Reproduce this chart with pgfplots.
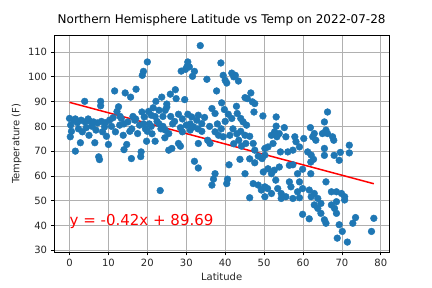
\documentclass[border=0pt]{standalone}
\usepackage{fontspec}
\setmainfont{DejaVu Sans}
\usepackage{pgfplots}
\pgfplotsset{compat=1.18}
\definecolor{mplblue}{HTML}{1F77B4}
\definecolor{gridgray}{HTML}{B0B0B0}
\begin{document}
\fontsize{10}{12}\selectfont
\begin{tikzpicture}
\begin{axis}[
  scale only axis, width=334.7pt, height=216.3pt,
  xmin=-3.91, xmax=82.1, ymin=29.3, ymax=116.6,
  xtick={0,10,...,80}, ytick={30,40,...,110},
  xtick pos=bottom, ytick pos=left,
  grid=major, grid style={gridgray, line width=0.8pt},
  axis line style={line width=0.8pt},
  tick align=outside, major tick length=3.5pt,
  tick style={black, line width=0.8pt},
  /pgf/number format/assume math mode=true,
  tick label style={font=\fontsize{10}{12}\selectfont, inner sep=0pt, text=black!85},
  xticklabel style={yshift=-3.5pt},
  yticklabel style={xshift=-3.5pt},
  title={Northern Hemisphere Latitude vs Temp on 2022-07-28},
  title style={font=\fontsize{12}{14}\selectfont, anchor=base, at={(0.5,1)}, yshift=6pt, inner sep=0pt},
  xlabel={Latitude}, ylabel={Temperature (F)},
  label style={font=\fontsize{10}{12}\selectfont, text=black!85},
  xlabel style={yshift=-3pt},
  ylabel style={yshift=3pt},
]
\addplot[only marks, mark=*, mark size=3.4pt, mplblue, mark options={solid, draw=none, fill=mplblue}] coordinates {
(0,83.2)(0.3,80.5)(0.5,78)(0.2,75.8)(1.1,82.5)(1.5,70.0)(1.5,83)(2.0,81.5)(2.3,79)(2.8,73.4)
(3.0,82.5)(3.3,77.8)(3.9,90.1)(4.0,81.8)(4.3,79.5)(4.8,83)(5.0,76.4)(5.3,82)(5.8,80)(6.2,81.8)
(6.5,73.4)(6.8,78.5)(7.2,81.4)(7.5,67.7)(7.7,66.6)(8.0,90.1)(8.0,88.3)(8.2,82)(8.5,77.8)(9.0,79.8)
(9.2,81.5)(9.5,76)(10.0,72.7)(10.3,82.5)(10.8,80)(11.2,83.5)(11.6,94.3)(11.8,77.8)(12.2,86)(12.6,87.9)
(12.9,80.5)(13.3,83.2)(13.8,76.4)(14.0,70.6)(14.3,93.5)(14.7,72.7)(15.0,81.8)(15.5,78)(15.7,91.8)(15.9,67.0)
(16.3,84)(16.8,82.5)(17.1,95.0)(17.5,77.1)(18.0,80.5)(18.4,69.7)(18.3,67.8)(18.6,85.8)(18.7,100.6)(19.0,102.2)
(19.2,83.8)(19.5,79)(19.8,74)(20.0,106)(20.3,86)(20.5,81)(21.0,84.5)(21.2,77)(21.5,87.5)(22.0,74)
(22.2,90.1)(22.5,82)(23.0,86.5)(23.3,54.1)(23.5,79)(23.7,91.8)(24.0,84)(24.5,75.4)(24.6,86.5)(24.6,78.5)
(25.0,87.8)(25.0,89)(25.5,77.1)(25.5,70.4)(25.9,93)(26.3,71.1)(26.5,81)(27.2,94.8)(27.4,91.2)(28.0,84.9)
(28.0,73.1)(28.5,72)(28.5,79.5)(28.7,102.3)(29.0,77.8)(29.6,90.8)(29.8,103)(30.0,80.5)(30.2,104.2)(30.4,106)
(30.4,84.9)(30.8,104)(31.0,78.5)(31.4,83.8)(31.6,100.2)(31.9,79.8)(32.1,102.2)(32.1,65.9)(32.7,82.5)(33.1,84.5)
(33.1,73.1)(33.1,63.2)(33.6,112.6)(34.0,81.1)(34.7,83.6)(35.3,99)(35.5,74.4)(36.1,73.1)(36.6,87.2)(36.6,56.3)
(37.0,58.7)(37.4,85.2)(37.4,60.9)(37.4,77.8)(37.8,94.3)(38.3,76.4)(38.9,105.6)(39.1,89.5)(39.5,100.6)(39.5,75.8)
(39.8,86.8)(40.0,98.6)(40.4,97.5)(40.4,56.9)(40.6,58.7)(40.8,84.9)(41.0,64.5)(41.2,76.4)(41.7,101.5)(41.7,83.2)
(42.2,100)(42.2,73)(42.6,100.6)(42.9,88.1)(43.1,85.2)(43.4,98.3)(43.8,66.7)(43.5,74.4)(44.0,83.2)(44.2,72)
(44.6,81.8)(45.1,91.6)(45.1,76.4)(45.1,60.9)(45.3,73.1)(45.5,80.5)(45.7,91.2)(46.3,76)(46.3,66.9)(46.3,51.2)
(46.6,93.5)(47.0,89.9)(47.2,73.1)(47.2,56.9)(47.4,85.8)(47.6,89.2)(47.6,70.4)(47.6,65.3)(48.5,56.3)(48.5,68)
(49.3,54.3)(49.5,67)(49.7,84.2)(49.8,61.6)(50.2,71.1)(50.2,68.4)(50.2,55.6)(50.2,51.6)(50.9,54.9)(51.0,71.7)
(51.0,62.9)(51.9,76.4)(51.9,60.9)(51.9,52.9)(52.3,73.1)(52.6,62.3)(52.7,77.8)(53.0,58.3)(53.1,83.8)(53.1,80.1)
(53.3,75.8)(53.5,54.9)(53.9,77.1)(53.9,63.6)(54.2,69.7)(54.4,52.9)(54.4,50.9)(55.2,79.5)(55.6,75.8)(55.6,51.6)
(56.1,69.7)(56.5,64.3)(56.5,57.6)(56.9,55.6)(57.4,70.4)(57.4,64.5)(57.4,50.9)(57.9,75.8)(58.2,73.8)(58.6,60.9)
(58.6,53.6)(59.1,71.7)(59.1,57.6)(59.1,51.2)(59.9,62.7)(59.9,54.9)(59.9,44.5)(60.2,75.1)(61.2,69.7)(61.6,54.3)
(61.6,42.7)(61.9,79.5)(62.0,65.6)(62.0,60.9)(62.1,68.4)(62.1,51.6)(62.5,75.8)(62.7,66.7)(62.9,77.1)(62.9,52.9)
(62.9,48.3)(63.3,74.4)(63.8,50.9)(63.8,46.9)(64.6,48.9)(64.6,44.9)(65.0,77.1)(65.5,81.8)(65.5,71.1)(65.5,68.3)
(65.5,42.3)(65.9,78.5)(65.9,57.6)(65.9,40.9)(66.3,85.8)(66.3,77.1)(67.3,53.6)(67.3,48.3)(67.6,75.8)(67.9,74.4)
(68.0,68.3)(68.1,46.9)(68.6,53.6)(68.6,49.6)(68.6,44.9)(68.8,34.9)(69.3,66.3)(69.3,40.3)(69.6,69.5)(69.9,52.9)
(70.1,37.6)(70.7,51.6)(70.7,50.3)(71.4,33.3)(71.9,72.4)(71.9,69.3)(72.8,40.9)(73.5,43.2)(77.6,37.6)(78.2,42.9)
(13,84)(14,81)(16,79)(17,83)(19,81)(20,78)(21,80)(22,84)(23,81)(24,80)
(26,84)(27,82)(29,83)(31,81)(33,79)(34,78)(36,80)(38,81)(39,79)(40,82)(42,79)(43,77)(44,78)
};
\addplot[red, line width=1.5pt] coordinates {(0,89.69) (78.2,56.85)};
\node[anchor=base west, inner sep=0pt, text=red, font=\fontsize{15}{18}\selectfont] at (axis cs:0,40) {y = -0.42x + 89.69};
\end{axis}
\pgfresetboundingbox
\path[use as bounding box] ([shift={(-54.3pt,-36pt)}]current axis.south west) rectangle ([shift={(377.7pt,252pt)}]current axis.south west);
\end{tikzpicture}
\end{document}
